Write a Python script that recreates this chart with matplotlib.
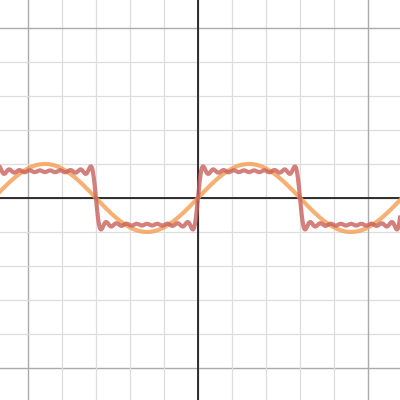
import numpy as np
import matplotlib.pyplot as plt

# view window (graph units), one minor grid step = 1 unit
x_range = [-5.82, 5.94]
y_range = [-5.94, 5.82]
period = 6.0
n_terms = 10          # odd harmonics in the square-wave series
sine_amp = 1.0

x = np.linspace(x_range[0], x_range[1], 4000)
w = 2 * np.pi / period
square = sum(np.sin((2 * k - 1) * w * x) / (2 * k - 1) for k in range(1, n_terms + 1))
sine = sine_amp * np.sin(w * x)

fig = plt.figure(figsize=(4, 4), dpi=100)
ax = fig.add_axes([0, 0, 1, 1])
ax.set_xlim(x_range)
ax.set_ylim(y_range)
ax.axis("off")

for v in range(-5, 6):
    major = v % 5 == 0
    c = "#aaaaaa" if major else "#dddddd"
    lw = 1.0 if major else 0.9
    ax.axvline(v, color=c, lw=lw, zorder=0)
    ax.axhline(v, color=c, lw=lw, zorder=0)
ax.axvline(0, color="#222222", lw=1.3, zorder=1)
ax.axhline(0, color="#222222", lw=1.3, zorder=1)

ax.plot(x, sine, color="#f5a25a", lw=3, alpha=0.85, zorder=2)
ax.plot(x, square, color="#c9605c", lw=3, alpha=0.8, zorder=3)

fig.savefig("out.png")
